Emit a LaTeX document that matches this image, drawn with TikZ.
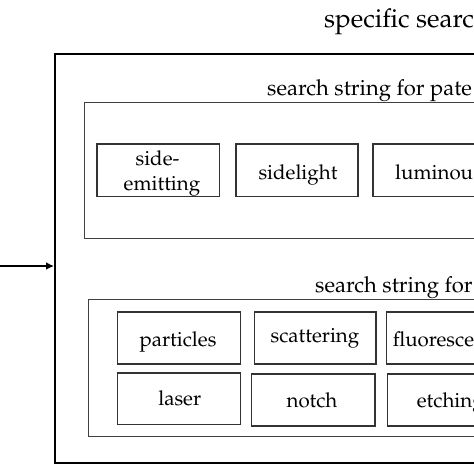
\documentclass[tikz,border=0pt]{standalone}
\usepackage[OT1]{fontenc}
\usepackage{mathpazo}
\usetikzlibrary{arrows.meta}
\begin{document}
\begin{tikzpicture}[x=1pt,y=-1pt,
  frame/.style={draw=black,line width=2pt,inner sep=0pt,anchor=north west},
  group/.style={draw=black!75,line width=1pt,inner sep=0pt,anchor=north west},
  term/.style={draw=black!80,line width=1.2pt,inner sep=0pt,anchor=north west},
  word/.style={inner sep=0pt,anchor=base,font=\fontsize{20.5}{24.3}\selectfont},
  head/.style={inner sep=0pt,anchor=base west,font=\fontsize{22}{26}\selectfont},
  title/.style={inner sep=0pt,anchor=base west,font=\fontsize{26}{30}\selectfont}]
\useasboundingbox (0,0) rectangle (474,474);
\clip (0,0) rectangle (474,474);
% frames
\node[frame,minimum width=470pt,minimum height=408.7pt] (outer) at (54,53) {};
\node[group,minimum width=420pt,minimum height=136.3pt] (gpat) at (84.3,102) {};
\node[group,minimum width=420pt,minimum height=136.4pt] (gsec) at (87.7,299.3) {};
% headings
\node[title] (ttl) at (324,27) {specific searc};
\node[head] (hpat) at (267,95.7) {search string for pate};
\node[head] (hsec) at (315,292.7) {search string for};
% upper row
\node[term,minimum width=122.4pt,minimum height=52.4pt] (b1) at (96.3,143.3) {};
\node[term,minimum width=122pt,minimum height=52.4pt] (b2) at (235.3,143.3) {};
\node[term,minimum width=122pt,minimum height=52.4pt] (b3) at (372.3,143.3) {};
\node[word] (t1a) at (157.5,165.7) {side-};
\node[word] (t1b) at (162,190) {emitting};
\node[word] (t2) at (298,179) {sidelight};
\node[word,anchor=base west] (t3) at (395,179) {luminou};
% lower rows
\node[term,minimum width=123pt,minimum height=52pt] (c1) at (117,311.3) {};
\node[term,minimum width=121.6pt,minimum height=52pt] (c2) at (253.7,311.3) {};
\node[term,minimum width=122pt,minimum height=52pt] (c3) at (386,311.3) {};
\node[term,minimum width=123pt,minimum height=51.7pt] (d1) at (117,372.3) {};
\node[term,minimum width=123.3pt,minimum height=52pt] (d2) at (251,373.3) {};
\node[term,minimum width=122pt,minimum height=52pt] (d3) at (387,373.3) {};
\node[word] (u1) at (178,346) {particles};
\node[word] (u2) at (315,342.7) {scattering};
\node[word,anchor=base west] (u3) at (392.7,346) {fluorescen};
\node[word] (v1) at (179.7,405.7) {laser};
\node[word] (v2) at (312,407.7) {notch};
\node[word,anchor=base west] (v3) at (416.7,407.7) {etching};
% arrow
\coordinate (src) at (0,266);
\draw[line width=1.6pt,-{Latex[length=8pt,width=8pt]}] (src) -- (src -| outer.west);
\end{tikzpicture}
\end{document}
